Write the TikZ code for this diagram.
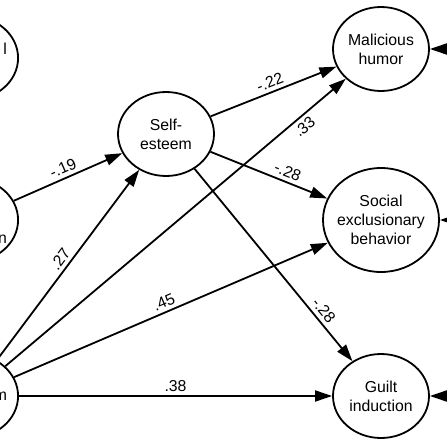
\documentclass[tikz,border=0pt]{standalone}
\usepackage{fontspec}
\setmainfont{Liberation Sans}
\usepackage{tikz}
\usetikzlibrary{shapes.geometric,arrows.meta,calc,positioning}

\begin{document}
\begin{tikzpicture}[x=1pt, y=-1pt, line width=1.8pt, >={Triangle[length=17pt,width=11pt]}]
   \useasboundingbox (0,0) rectangle (447,447);
   \clip (0,0) rectangle (447,447);
   \begin{scope}[every node/.style={ellipse,draw,minimum width=96pt,minimum height=84pt,inner sep=-3pt,align=center,font=\fontsize{15.8}{19}\selectfont}]
    \node (p1) [text width=74pt, align=right] at (-30,58) {l\\\phantom{l}};
    \node (p2) [text width=74pt, align=right] at (-30,220) {\phantom{n}\\\phantom{n}\\n};
    \node (p3) [text width=74pt, align=right] at (-30,396) {m};
    \node (se) at (166,134) {Self-\\esteem};
    \node (mh) at (381,49) {Malicious\\humor};
    \node (seb) [minimum width=116pt, minimum height=104pt] at (381,220) {Social\\exclusionary\\behavior};
    \node (gi) at (381,396) {Guilt\\induction};
   \end{scope}
   \coordinate (e1) at (480,49);
   \coordinate (e2) at (480,220);
   \coordinate (e3) at (480,396);
   \begin{scope}[->, every node/.style={font=\fontsize{15.8}{18}\selectfont, inner sep=3.5pt, sloped, above}]
    \draw (p2) edge node[pos=.49]{-.19} (se);
    \draw (p3) edge node[pos=.5]{.27} (se);
    \draw (p3) edge node[pos=.86, below]{.33} (mh);
    \draw (p3) edge node[pos=.49]{.45} (seb);
    \draw (p3) edge node[pos=.5]{.38} (gi);
    \draw (se) edge node[pos=.5]{-.22} (mh);
    \draw (se) edge node[pos=.63]{-.28} (seb);
    \draw (se) edge node[pos=.77]{-.28} (gi);
    \draw (e1) edge (mh);
    \draw (e2) edge (seb);
    \draw (e3) edge (gi);
   \end{scope}
\end{tikzpicture}
\end{document}
